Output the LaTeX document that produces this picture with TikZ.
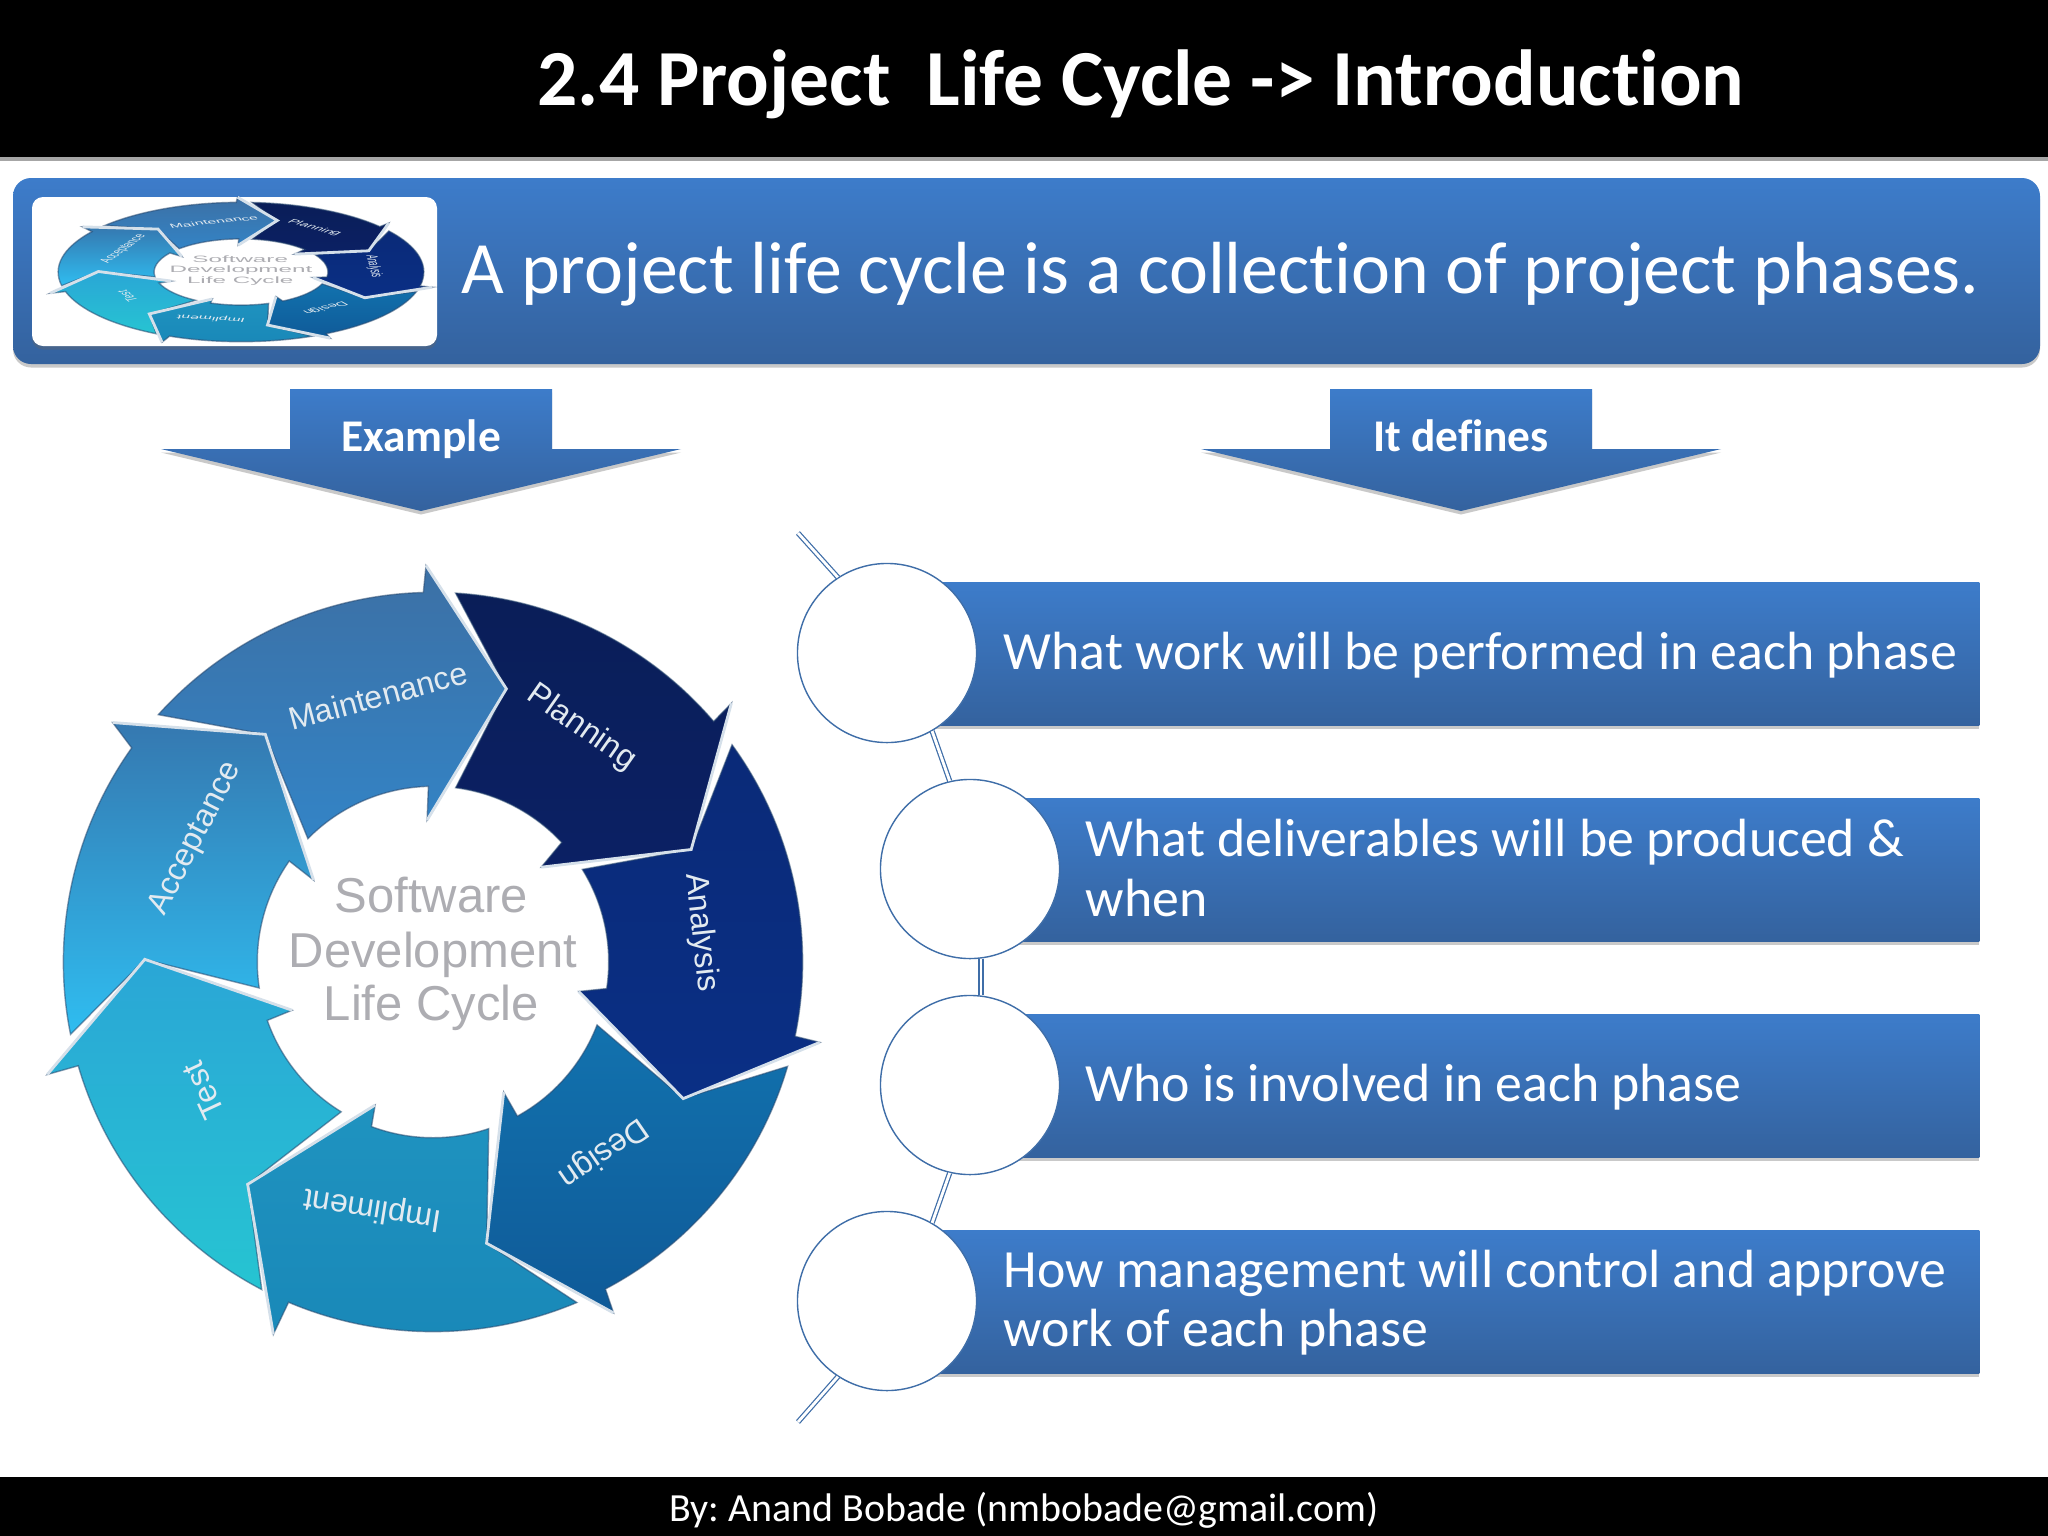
\documentclass[tikz,border=0pt]{standalone}
\usepackage{fontspec}
\setmainfont[RawFeature={-liga}]{Carlito}
\newfontfamily\ringfont{Liberation Sans}
\usetikzlibrary{shadows}
\definecolor{barTop}{HTML}{3D7CCA}
\definecolor{barBot}{HTML}{34629E}
\definecolor{spineBlue}{HTML}{3F6EA8}
\definecolor{ringEdge}{HTML}{2A4A70}
\definecolor{ringLine}{HTML}{D5E0EA}
\definecolor{ringText}{HTML}{E2EAF0}
\definecolor{coreText}{HTML}{ADADB2}
\definecolor{maintA}{HTML}{3C70A5}\definecolor{maintB}{HTML}{3384C6}
\definecolor{planA}{HTML}{0A1E58}\definecolor{planB}{HTML}{0B2064}
\definecolor{analA}{HTML}{0A2A78}\definecolor{analB}{HTML}{0A2F85}
\definecolor{desA}{HTML}{1272AE}\definecolor{desB}{HTML}{0F5A98}
\definecolor{impA}{HTML}{1F93C0}\definecolor{impB}{HTML}{1988B8}
\definecolor{testA}{HTML}{2AA6D6}\definecolor{testB}{HTML}{26C4D2}
\definecolor{accA}{HTML}{3578B0}\definecolor{accB}{HTML}{2FBDF0}
\tikzset{
	softshadow/.style={drop shadow={shadow xshift=0pt,shadow yshift=-1pt,opacity=.35,fill=black!60}},
	bluefill/.style={shading=axis,top color=barTop,bottom color=barBot},
	barbox/.style={rectangle,bluefill,softshadow,inner sep=0pt,minimum width=#1,minimum height=1.43cm,anchor=north west},
	bartext/.style={anchor=west,align=left,text=white,inner sep=0pt,font=\fontsize{15.3}{16.8}\selectfont},
	roundel/.style={circle,draw=spineBlue,line width=.4pt,fill=white,inner sep=0pt,minimum size=1.79cm},
	spine/.style={draw=spineBlue,line width=.35pt,double=white,double distance=.8pt},
	ringlabel/.style={text=ringText,inner sep=0pt,font=\ringfont\fontsize{17}{20}\selectfont},
	corelabel/.style={text=coreText,inner sep=0pt,font=\ringfont\fontsize{26}{30}\selectfont},
}
% the ring is written in its own units, y upwards, centre at the origin
\newcommand{\cyclering}{%
	\foreach \ca/\cb/\pt/\aone/\atwo/\ptO/\ptT/\ptI/\bone/\btwo in {
		maintA/maintB/{(-313,425)}/138/91.5/{(-13,740)}/{(137,510)}/{(-11,265)}/91.5/135.4,
		planA/planB/{(137,510)}/86.5/40.6/{(557,483)}/{(482,210)}/{(202,177)}/42.9/82.6,
		analA/analB/{(482,210)}/36/-11.6/{(722,-150)}/{(467,-255)}/{(272,-55)}/-8.7/31.8,
		desA/desB/{(467,-255)}/-16.4/-62.2/{(337,-655)}/{(100,-525)}/{(132,-243)}/-61.3/-21,
		impA/impB/{(100,-525)}/-67.1/-113/{(-298,-695)}/{(-346,-415)}/{(-108,-267)}/-110.5/-71.5,
		testA/testB/{(-346,-415)}/-117.6/-163.7/{(-720,-210)}/{(-538,5)}/{(-263,-90)}/-160.6/-121.5,
		accA/accB/{(-538,5)}/191.3/144.6/{(-598,447)}/{(-313,425)}/{(-223,153)}/144.9/188.5}
	{
		\draw[draw=ringEdge,draw opacity=.55,line width=.4pt,shading=axis,top color=\ca,bottom color=\cb]
			\pt -- (\aone:690) arc[start angle=\aone,end angle=\atwo,radius=690]
			-- \ptO -- \ptT -- \ptI
			-- (\bone:328) arc[start angle=\bone,end angle=\btwo,radius=328] -- cycle;
	}
	\foreach \ptO/\ptT/\ptI in {
		{(-13,740)}/{(137,510)}/{(-11,265)},{(557,483)}/{(482,210)}/{(202,177)},
		{(722,-150)}/{(467,-255)}/{(272,-55)},{(337,-655)}/{(100,-525)}/{(132,-243)},
		{(-298,-695)}/{(-346,-415)}/{(-108,-267)},{(-720,-210)}/{(-538,5)}/{(-263,-90)},
		{(-598,447)}/{(-313,425)}/{(-223,153)}}
	{
		\draw[ringLine,line width=.8pt,line join=miter] \ptO -- \ptT -- \ptI;
	}
	\node[ringlabel,rotate=15] (maintenance) at (-103,497) {Maintenance};
	\node[ringlabel,rotate=-35] (planning) at (277,437) {Planning};
	\node[ringlabel,rotate=-84] (analysis) at (500,55) {Analysis};
	\node[ringlabel,rotate=-145.5] (design) at (317,-355) {Design};
	\node[ringlabel,rotate=171] (impliment) at (-113,-460) {Impliment};
	\node[ringlabel,rotate=115] (test) at (-428,-240) {Test};
	\node[ringlabel,rotate=63] (acceptance) at (-443,230) {Acceptance};
	\node[corelabel] (coreA) at (-3,125) {Software};
	\node[corelabel] (coreB) at (0,14) {Development};
	\node[corelabel] (coreC) at (-3,-86) {Life Cycle};
}
\begin{document}
\frenchspacing
\begin{tikzpicture}[x=0.01cm,y=-0.01cm]
	\useasboundingbox (0,0) rectangle (2048,1536);
	\fill[white] (0,0) rectangle (2048,1536);
	% title and footer bands
	\fill[black!35] (0,157) rectangle (2048,161);
	\fill[black] (0,0) rectangle (2048,157);
	\fill[black] (0,1477) rectangle (2048,1536);
	\node[text=white,inner sep=0pt,font=\bfseries\fontsize{22.6}{26}\selectfont] (title) at (1141,84) {2.4 Project\ \ Life Cycle -> Introduction};
	\node[text=white,inner sep=0pt,font=\fontsize{11.35}{14}\selectfont] (footer) at (1024,1510) {By: Anand Bobade (nmbobade@gmail.com)};
	% headline
	\shade[bluefill,softshadow,rounded corners=.18cm] (13,178) rectangle (2040,364);
	\fill[white,softshadow,rounded corners=.11cm] (32,197) rectangle (437,346);
	\begin{scope}[shift={(241,272)},y=0.01cm,xscale=0.265,yscale=0.101,name prefix=thumb-,every node/.append style={transform shape}]
		\cyclering
	\end{scope}
	\node[text=white,inner sep=0pt,anchor=west,font=\fontsize{21}{25}\selectfont] (headline) at (461,274) {A project life cycle is a collection of project phases.};
	% block arrows
	\foreach \ax/\atext/\aname in {421/Example/arrowA,1461/It defines/arrowB}
	{
		\shade[bluefill,softshadow] (\ax-131,389) -- (\ax+131,389) -- (\ax+131,449) -- (\ax+260,449)
			-- (\ax,511) -- (\ax-260,449) -- (\ax-131,449) -- cycle;
		\node[text=white,inner sep=0pt,anchor=base,font=\bfseries\fontsize{12.9}{15}\selectfont] (\aname) at (\ax,451) {\atext};
	}
	% big ring
	\begin{scope}[shift={(433,962)},y=0.01cm,scale=0.5357,every node/.append style={transform shape}]
		\cyclering
	\end{scope}
	% right column
	\node[barbox=10.91cm] (barA) at (887,582) {};
	\node[barbox=10.08cm] (barB) at (970,798) {};
	\node[barbox=10.08cm] (barC) at (970,1014) {};
	\node[barbox=10.91cm] (barD) at (887,1230) {};
	\coordinate (spineTop) at (798,533);
	\coordinate (spineEnd) at (798,1422);
	\node[roundel] (dotA) at (887,653) {};
	\node[roundel] (dotB) at (970,869) {};
	\node[roundel] (dotC) at (970,1085) {};
	\node[roundel] (dotD) at (887,1301) {};
	\draw[spine] (spineTop) -- (dotA.123);
	\draw[spine] (dotA.-60) -- (dotB.103);
	\draw[spine] (dotB.-83) -- (dotC.83);
	\draw[spine] (dotC.-103) -- (dotD.60);
	\draw[spine] (dotD.-123) -- (spineEnd);
	\node[bartext] (textA) at (1003,655) {What work will be performed in each phase};
	\node[bartext] (textB) at (1085,868) {What deliverables will be produced \&\\when};
	\node[bartext] (textC) at (1085,1087) {Who is involved in each phase};
	\node[bartext] (textD) at (1003,1303) {How management will control and approve\\work of each phase};
\end{tikzpicture}
\end{document}
